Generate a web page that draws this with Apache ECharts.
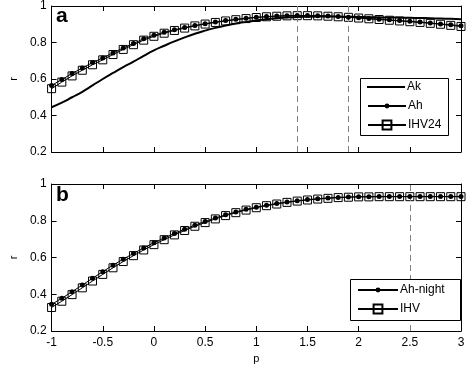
<!DOCTYPE html>
<html>
<head>
<meta charset="utf-8">
<script src="https://cdn.jsdelivr.net/npm/echarts@6/dist/echarts.min.js"></script>
<style>html,body{margin:0;padding:0;background:#fff;}#c{width:474px;height:372px;}</style>
</head>
<body>
<div id="c"></div>
<script>
var pValues = [-1,-0.9,-0.8,-0.7,-0.6,-0.5,-0.4,-0.3,-0.2,-0.1,0,0.1,0.2,0.3,0.4,0.5,0.6,0.7,0.8,0.9,1,1.1,1.2,1.3,1.4,1.5,1.6,1.7,1.8,1.9,2,2.1,2.2,2.3,2.4,2.5,2.6,2.7,2.8,2.9,3];
var akValues = [0.445,0.47,0.50,0.53,0.565,0.60,0.633,0.665,0.695,0.727,0.757,0.782,0.806,0.828,0.848,0.865,0.88,0.893,0.904,0.913,0.921,0.928,0.933,0.937,0.94,0.941,0.942,0.942,0.942,0.941,0.94,0.939,0.938,0.937,0.936,0.935,0.934,0.933,0.931,0.93,0.928];
var ahValues = [0.565,0.597,0.63,0.66,0.69,0.715,0.743,0.77,0.795,0.82,0.84,0.856,0.87,0.882,0.893,0.903,0.912,0.92,0.927,0.933,0.938,0.942,0.945,0.947,0.948,0.948,0.947,0.945,0.942,0.939,0.935,0.931,0.928,0.924,0.92,0.916,0.912,0.907,0.902,0.897,0.892];
var ihv24Values = [0.547,0.583,0.617,0.648,0.678,0.705,0.734,0.762,0.788,0.813,0.834,0.851,0.866,0.879,0.891,0.901,0.91,0.918,0.925,0.931,0.937,0.941,0.944,0.946,0.947,0.947,0.946,0.944,0.941,0.938,0.934,0.93,0.926,0.922,0.918,0.914,0.91,0.905,0.9,0.894,0.888];
var ahNightValues = [0.345,0.378,0.414,0.45,0.487,0.523,0.558,0.591,0.622,0.652,0.68,0.706,0.731,0.754,0.776,0.796,0.815,0.832,0.848,0.862,0.874,0.885,0.894,0.902,0.909,0.915,0.92,0.924,0.927,0.929,0.931,0.931,0.932,0.932,0.932,0.932,0.932,0.932,0.932,0.932,0.932];
var ihvValues = [0.328,0.362,0.398,0.435,0.472,0.508,0.544,0.578,0.61,0.641,0.67,0.697,0.723,0.747,0.77,0.79,0.81,0.828,0.844,0.858,0.871,0.882,0.891,0.9,0.907,0.913,0.918,0.922,0.926,0.928,0.93,0.93,0.931,0.931,0.931,0.931,0.931,0.931,0.931,0.931,0.931];
var dashLinesA = [1.4, 1.9];
var dashLinesB = [2.5];
var xTicks = {min: -1, max: 3, interval: 0.5};
var yTicks = {min: 0.2, max: 1, interval: 0.2};

function pairs(vals){ return pValues.map(function(p,i){ return [p, vals[i]]; }); }

var FONT = 'Liberation Sans, Arial, sans-serif';
var chart = echarts.init(document.getElementById('c'), null, {renderer: 'canvas'});

function xAx(gi, pos, labels, name){
  return {
    type: 'value', gridIndex: gi, position: pos, min: xTicks.min, max: xTicks.max, interval: xTicks.interval,
    axisLine: {show: true, onZero: false, lineStyle: {color: '#000', width: 1}},
    axisTick: {show: true, inside: true, length: 5, lineStyle: {color: '#000'}},
    axisLabel: {show: labels, color: '#000', fontFamily: FONT, fontSize: 12, margin: 6},
    splitLine: {show: false},
    name: name || '', nameLocation: 'middle', nameGap: 22,
    nameTextStyle: {color: '#000', fontFamily: FONT, fontSize: 11}
  };
}
function yAx(gi, pos, labels){
  return {
    type: 'value', gridIndex: gi, position: pos, min: yTicks.min, max: yTicks.max, interval: yTicks.interval,
    axisLine: {show: true, onZero: false, lineStyle: {color: '#000', width: 1}},
    axisTick: {show: true, inside: true, length: 5, lineStyle: {color: '#000'}},
    axisLabel: {show: labels, color: '#000', fontFamily: FONT, fontSize: 12, margin: 5,
      formatter: function(v){ return Math.round(v*10)/10 + ''; }},
    splitLine: {show: false},
    name: labels ? 'r' : '', nameLocation: 'middle', nameGap: 32, nameRotate: 90,
    nameTextStyle: {color: '#000', fontFamily: FONT, fontSize: 11}
  };
}
function dash(vals){
  return {
    silent: true, symbol: ['none','none'], label: {show: false},
    lineStyle: {color: '#808080', type: [6,4], width: 1},
    data: vals.map(function(v){ return {xAxis: v}; })
  };
}
function leg(name, left, centerY, itemWidth, itemHeight, icon){
  var l = {
    data: [name], orient: 'vertical', left: left, top: centerY - 7, padding: 0,
    itemWidth: itemWidth, itemHeight: itemHeight, z: 20, selectedMode: false,
    textStyle: {fontFamily: FONT, fontSize: 12, color: '#000', padding: [0,0,0,-3]}
  };
  if (icon) l.icon = icon;
  return l;
}

var squareStyle = {color: 'transparent', borderColor: '#000', borderWidth: 1};

var option = {
  animation: false,
  backgroundColor: '#fff',
  title: [
    {text: 'a', left: 51, top: 1, textStyle: {fontFamily: FONT, fontSize: 21, fontWeight: 'bold', color: '#000'}},
    {text: 'b', left: 51, top: 180, textStyle: {fontFamily: FONT, fontSize: 21, fontWeight: 'bold', color: '#000'}}
  ],
  grid: [
    {left: 46, top: 5, width: 415, height: 147},
    {left: 46, top: 184, width: 415, height: 147}
  ],
  xAxis: [xAx(0,'bottom',false), xAx(0,'top',false), xAx(1,'bottom',true,'p'), xAx(1,'top',false)],
  yAxis: [yAx(0,'left',true), yAx(0,'right',false), yAx(1,'left',true), yAx(1,'right',false)],
  graphic: [
    {type: 'rect', z: 15, shape: {x: 360.5, y: 78.5, width: 88, height: 57},
      style: {fill: '#fff', stroke: '#000', lineWidth: 1}},
    {type: 'rect', z: 15, shape: {x: 350.5, y: 279.5, width: 110, height: 41},
      style: {fill: '#fff', stroke: '#000', lineWidth: 1}}
  ],
  legend: [
    leg('Ak', 367, 88, 38, 2, 'rect'),
    leg('Ah', 367, 107, 38, 6),
    leg('IHV24', 367, 126, 38, 11),
    leg('Ah-night', 357, 291, 40, 6),
    leg('IHV', 357, 310, 40, 11)
  ],
  series: [
    {name: 'Ak', type: 'line', xAxisIndex: 0, yAxisIndex: 0, data: pairs(akValues), symbol: 'none', smooth: true,
      lineStyle: {color: '#000', width: 2}, itemStyle: {color: '#000'}, z: 3, markLine: dash(dashLinesA)},
    {name: 'IHV24', type: 'line', xAxisIndex: 0, yAxisIndex: 0, data: pairs(ihv24Values), symbol: 'rect', symbolSize: 8,
      showAllSymbol: true, lineStyle: {color: '#000', width: 1}, itemStyle: squareStyle, z: 4},
    {name: 'Ah', type: 'line', xAxisIndex: 0, yAxisIndex: 0, data: pairs(ahValues), symbol: 'circle', symbolSize: 5,
      showAllSymbol: true, lineStyle: {color: '#000', width: 1}, itemStyle: {color: '#000'}, z: 5},
    {name: 'IHV', type: 'line', xAxisIndex: 2, yAxisIndex: 2, data: pairs(ihvValues), symbol: 'rect', symbolSize: 8,
      showAllSymbol: true, lineStyle: {color: '#000', width: 1}, itemStyle: squareStyle, z: 4, markLine: dash(dashLinesB)},
    {name: 'Ah-night', type: 'line', xAxisIndex: 2, yAxisIndex: 2, data: pairs(ahNightValues), symbol: 'circle', symbolSize: 5,
      showAllSymbol: true, lineStyle: {color: '#000', width: 1}, itemStyle: {color: '#000'}, z: 5}
  ]
};
chart.setOption(option);
</script>
</body>
</html>
